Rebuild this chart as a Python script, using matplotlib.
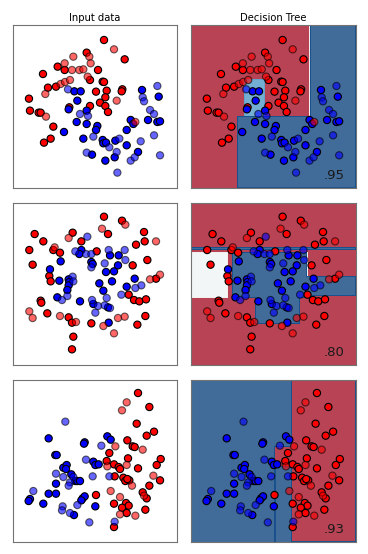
import numpy as np
import matplotlib
matplotlib.use("Agg")
import matplotlib.pyplot as plt
from matplotlib.colors import ListedColormap

# point readings per dataset (x, y in panel units, y grows downwards)
# kind: R/B = training point, r/b = test point (drawn faded)
moons_pts = [
    (282, 60, 'R'), (312, 88, 'r'), (344, 118, 'R'), (230, 98, 'R'), (190, 110, 'r'), (238, 110, 'r'),
    (164, 130, 'r'), (143, 140, 'R'), (164, 150, 'R'), (186, 150, 'r'), (208, 150, 'r'), (220, 148, 'r'),
    (242, 130, 'r'), (233, 170, 'r'), (240, 180, 'R'), (264, 150, 'R'), (99, 162, 'R'), (114, 203, 'R'),
    (138, 200, 'R'), (152, 192, 'r'), (165, 186, 'r'), (180, 180, 'r'), (106, 222, 'r'), (278, 185, 'R'),
    (282, 186, 'R'), (290, 212, 'R'), (258, 215, 'R'), (337, 208, 'R'), (335, 214, 'R'), (57, 236, 'R'),
    (286, 232, 'R'), (320, 242, 'r'), (178, 262, 'R'), (240, 258, 'R'), (270, 248, 'R'), (286, 258, 'R'),
    (294, 276, 'R'), (60, 272, 'R'), (86, 278, 'R'), (92, 278, 'R'), (108, 290, 'r'), (130, 320, 'R'),
    (122, 356, 'R'), (102, 368, 'R'), (376, 306, 'r'),
    (174, 208, 'b'), (193, 214, 'B'), (212, 214, 'B'), (202, 242, 'B'), (176, 268, 'B'), (210, 282, 'b'),
    (230, 272, 'B'), (234, 288, 'b'), (200, 306, 'B'), (230, 312, 'B'), (262, 318, 'B'), (258, 330, 'B'),
    (162, 336, 'B'), (220, 356, 'B'), (250, 350, 'b'), (278, 360, 'B'), (280, 370, 'B'), (288, 368, 'B'),
    (298, 382, 'b'), (316, 362, 'B'), (328, 356, 'b'), (350, 376, 'B'), (320, 396, 'b'), (230, 398, 'b'),
    (246, 404, 'B'), (286, 422, 'B'), (314, 412, 'B'), (322, 458, 'b'), (362, 422, 'b'), (374, 412, 'b'),
    (384, 396, 'B'), (392, 364, 'b'), (350, 330, 'B'), (362, 300, 'B'), (396, 210, 'B'), (398, 232, 'b'),
    (402, 244, 'b'), (442, 198, 'b'), (446, 230, 'B'), (420, 270, 'b'), (432, 282, 'b'), (414, 300, 'B'),
    (442, 306, 'B'), (450, 304, 'B'), (432, 346, 'b'), (450, 406, 'b'), (370, 312, 'B'),
]

circles_pts = [
    (282, 50, 'R'), (336, 62, 'R'), (346, 74, 'r'), (276, 86, 'r'), (294, 102, 'R'), (74, 102, 'R'),
    (188, 98, 'R'), (176, 114, 'r'), (100, 124, 'R'), (214, 124, 'R'), (130, 150, 'R'), (134, 142, 'r'),
    (150, 158, 'R'), (58, 150, 'R'), (260, 154, 'R'), (378, 134, 'R'), (402, 96, 'R'), (404, 124, 'R'),
    (438, 124, 'r'), (68, 194, 'R'), (368, 196, 'R'), (412, 180, 'R'), (118, 228, 'R'), (122, 244, 'R'),
    (420, 238, 'r'), (438, 236, 'R'), (450, 224, 'r'), (92, 302, 'R'), (94, 308, 'R'), (356, 284, 'R'),
    (372, 300, 'R'), (388, 304, 'R'), (408, 298, 'R'), (58, 334, 'r'), (68, 354, 'r'), (112, 340, 'R'),
    (150, 348, 'r'), (176, 352, 'R'), (186, 368, 'R'), (198, 366, 'r'), (244, 370, 'R'), (280, 378, 'r'),
    (324, 354, 'r'), (344, 350, 'r'), (382, 374, 'R'), (406, 348, 'R'), (312, 400, 'r'), (190, 410, 'R'),
    (186, 448, 'R'),
    (232, 110, 'b'), (196, 154, 'b'), (214, 150, 'B'), (208, 162, 'B'), (228, 162, 'b'), (244, 162, 'b'),
    (152, 184, 'B'), (244, 186, 'B'), (248, 192, 'B'), (244, 202, 'b'), (296, 150, 'b'), (300, 166, 'B'),
    (326, 166, 'B'), (344, 150, 'b'), (346, 180, 'b'), (284, 190, 'b'), (324, 196, 'B'), (312, 214, 'B'),
    (288, 216, 'B'), (120, 208, 'B'), (148, 242, 'B'), (176, 238, 'B'), (178, 246, 'B'), (188, 230, 'b'),
    (190, 244, 'b'), (176, 256, 'B'), (172, 270, 'B'), (268, 250, 'B'), (306, 244, 'B'), (280, 272, 'B'),
    (374, 236, 'B'), (350, 260, 'B'), (394, 256, 'b'), (376, 264, 'b'), (142, 292, 'B'), (156, 300, 'b'),
    (172, 288, 'b'), (210, 304, 'B'), (246, 300, 'b'), (250, 312, 'B'), (264, 318, 'b'), (284, 316, 'b'),
    (294, 322, 'B'), (300, 324, 'b'), (290, 294, 'b'), (256, 338, 'b'), (334, 284, 'b'), (296, 368, 'B'),
]

linear_pts = [
    (384, 48, 'R'), (350, 76, 'r'), (418, 90, 'R'), (336, 100, 'r'), (380, 140, 'R'), (432, 164, 'R'),
    (410, 176, 'R'), (352, 190, 'R'), (368, 208, 'R'), (374, 210, 'R'), (316, 208, 'r'), (398, 218, 'r'),
    (298, 228, 'R'), (354, 244, 'R'), (290, 252, 'R'), (292, 268, 'r'), (312, 262, 'R'), (326, 270, 'R'),
    (330, 276, 'R'), (350, 264, 'r'), (384, 274, 'R'), (452, 246, 'R'), (440, 264, 'R'), (430, 296, 'r'),
    (450, 310, 'R'), (314, 298, 'R'), (340, 302, 'R'), (346, 312, 'R'), (358, 310, 'R'), (352, 306, 'R'),
    (366, 326, 'r'), (418, 326, 'R'), (302, 342, 'r'), (398, 346, 'R'), (410, 364, 'R'), (402, 356, 'r'),
    (330, 360, 'r'), (258, 354, 'R'), (312, 380, 'R'), (348, 378, 'R'), (356, 386, 'R'), (336, 392, 'R'),
    (406, 398, 'R'), (350, 408, 'R'), (376, 416, 'r'), (330, 412, 'r'), (312, 450, 'R'),
    (166, 134, 'b'), (116, 184, 'B'), (136, 234, 'B'), (140, 234, 'B'), (224, 196, 'B'), (222, 200, 'B'),
    (292, 178, 'B'), (302, 188, 'B'), (274, 206, 'b'), (228, 248, 'b'), (250, 254, 'B'), (256, 264, 'B'),
    (266, 262, 'B'), (160, 272, 'B'), (170, 264, 'B'), (168, 276, 'B'), (138, 290, 'b'), (184, 292, 'B'),
    (190, 300, 'b'), (196, 312, 'B'), (202, 312, 'B'), (210, 312, 'B'), (160, 300, 'b'), (180, 316, 'b'),
    (138, 320, 'B'), (176, 326, 'b'), (248, 298, 'b'), (298, 298, 'b'), (116, 350, 'B'), (138, 350, 'B'),
    (70, 342, 'b'), (60, 366, 'B'), (56, 372, 'B'), (100, 380, 'B'), (218, 364, 'B'), (224, 358, 'B'),
    (214, 370, 'B'), (202, 384, 'b'), (158, 388, 'b'), (156, 400, 'b'), (180, 408, 'b'), (192, 414, 'B'),
    (256, 388, 'B'), (238, 436, 'b'), (314, 434, 'b'),
]

# panel extents (x0, x1, y_bottom, y_top)
moons_lim = (10, 500, 505, 15)
circles_lim = (10, 500, 495, 8)
linear_lim = (10, 500, 494, 9)

# decision tree leaves: base probability of blue, then (x0, x1, y0, y1, p)
moons_base = 0.0
moons_leaves = [(148, 500, 290, 505, 1.0), (366, 500, 15, 505, 1.0),
                (170, 228, 180, 290, 0.8), (362, 366, 15, 290, 0.5)]
circles_base = 0.0
circles_leaves = [(10, 500, 142, 150, 1.0), (10, 118, 158, 292, 0.5),
                  (133, 355, 158, 292, 1.0), (203, 333, 292, 372, 1.0),
                  (355, 500, 231, 288, 1.0)]
linear_base = 1.0
linear_leaves = [(308, 500, 9, 494, 0.0), (259, 308, 210, 268, 0.0),
                 (258, 261, 268, 494, 0.5)]

scores = ['.95', '.80', '.93']

datasets = [
    (moons_pts, moons_lim, moons_base, moons_leaves),
    (circles_pts, circles_lim, circles_base, circles_leaves),
    (linear_pts, linear_lim, linear_base, linear_leaves),
]

W, H = 368, 554
fig = plt.figure(figsize=(W / 100, H / 100), dpi=100)
fig.patch.set_facecolor('white')

cm = plt.cm.RdBu
cm_bright = ListedColormap(['#FF0000', '#0000FF'])

rows = [(25, 188.3), (202.7, 365), (380, 541.7)]
cols = [(13.3, 176.7), (191, 356)]


def draw_points(ax, pts):
    x = np.array([p[0] for p in pts], float)
    y = np.array([p[1] for p in pts], float)
    kind = [p[2] for p in pts]
    cls = np.array([1 if k in 'Bb' else 0 for k in kind])
    train = np.array([k.isupper() for k in kind])
    ax.scatter(x[train], y[train], c=cls[train], cmap=cm_bright, vmin=0, vmax=1,
               s=27, edgecolors='k', linewidths=0.8, zorder=3)
    ax.scatter(x[~train], y[~train], c=cls[~train], cmap=cm_bright, vmin=0, vmax=1,
               s=27, edgecolors='k', linewidths=0.8, alpha=0.6, zorder=3)


def style(ax, lim):
    ax.set_xlim(lim[0], lim[1])
    ax.set_ylim(lim[2], lim[3])
    ax.set_xticks([])
    ax.set_yticks([])
    for s in ax.spines.values():
        s.set_color('0.45')
        s.set_linewidth(0.8)


for i, (pts, lim, base, leaves) in enumerate(datasets):
    top, bot = rows[i]
    rect_l = [cols[0][0] / W, 1 - bot / H, (cols[0][1] - cols[0][0]) / W, (bot - top) / H]
    rect_r = [cols[1][0] / W, 1 - bot / H, (cols[1][1] - cols[1][0]) / W, (bot - top) / H]

    ax = fig.add_axes(rect_l)
    draw_points(ax, pts)
    style(ax, lim)
    if i == 0:
        ax.set_title('Input data', fontsize=7.2, pad=3)

    ax = fig.add_axes(rect_r)
    xx, yy = np.meshgrid(np.arange(lim[0], lim[1] + 1, 1.0),
                         np.arange(min(lim[2], lim[3]), max(lim[2], lim[3]) + 1, 1.0))
    Z = np.full(xx.shape, base)
    for x0, x1, y0, y1, p in leaves:
        Z[(xx >= x0) & (xx < x1) & (yy >= y0) & (yy < y1)] = p
    ax.contourf(xx, yy, Z, levels=np.linspace(0, 1, 12), cmap=cm, alpha=0.8,
                vmin=-0.04, vmax=1.0)
    draw_points(ax, pts)
    style(ax, lim)
    if i == 0:
        ax.set_title('Decision Tree', fontsize=7.2, pad=3)
    ax.text(0.93, 0.055, scores[i], transform=ax.transAxes, ha='right', va='baseline',
            fontsize=9.5, color='0.1')

fig.savefig('out.png', dpi=100)
